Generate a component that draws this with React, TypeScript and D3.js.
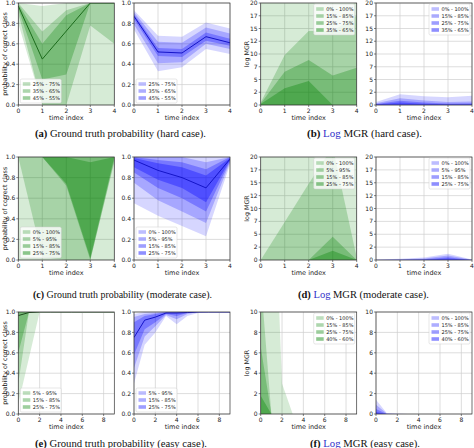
import React from 'react';
import * as d3 from 'd3';

type Band = { label: string; lo: number[]; hi: number[] };

// time axes
const hardT = [0, 1, 2, 3, 4];
const easyT = [0, 1, 2, 3, 4, 5, 6, 7, 8, 9];
const hardXTicks = [0, 1, 2, 3, 4];
const easyXTicks = [0, 2, 4, 6, 8];

// y ticks
const probTicks = [0, 0.2, 0.4, 0.6, 0.8, 1.0];
const mgrTicks20 = [0, 2.5, 5, 7.5, 10, 12.5, 15, 17.5, 20];
const mgrTicks10 = [0, 2, 4, 6, 8, 10];

// (a) ground truth probability, hard case
const hardTruthRefMedian = [0.97, 0.45, 0.725, 1.0, 1.0];
const hardTruthRefBands: Band[] = [
  { label: '25% - 75%', lo: [0.8, 0.0, 0.0, 0.0, 0.0], hi: [1.0, 0.97, 1.0, 1.0, 1.0] },
  { label: '35% - 65%', lo: [0.9, 0.0, 0.0, 0.78, 0.6], hi: [1.0, 0.72, 0.93, 1.0, 1.0] },
  { label: '45% - 55%', lo: [0.94, 0.25, 0.3, 1.0, 1.0], hi: [0.99, 0.6, 0.88, 1.0, 1.0] },
];
const hardTruthOursMedian = [0.87, 0.52, 0.51, 0.67, 0.61];
const hardTruthOursBands: Band[] = [
  { label: '25% - 75%', lo: [0.74, 0.33, 0.37, 0.55, 0.5], hi: [0.93, 0.68, 0.67, 0.81, 0.75] },
  { label: '35% - 65%', lo: [0.79, 0.41, 0.42, 0.6, 0.55], hi: [0.91, 0.62, 0.61, 0.76, 0.7] },
  { label: '45% - 55%', lo: [0.84, 0.48, 0.47, 0.63, 0.58], hi: [0.89, 0.56, 0.55, 0.71, 0.65] },
];

// (b) log MGR, hard case
const hardMgrRefBands: Band[] = [
  { label: '0% - 100%', lo: [0, 0, 0, 0, 0], hi: [20, 20, 20, 20, 20] },
  { label: '15% - 85%', lo: [0, 0, 0, 0, 0], hi: [0.5, 9.8, 14.5, 14.5, 17.5] },
  { label: '25% - 75%', lo: [0, 0, 0, 0, 0], hi: [0.3, 6.5, 8.8, 5.8, 7.3] },
  { label: '35% - 65%', lo: [0, 0, 0, 0, 0], hi: [0.2, 3.3, 4.7, 0.0, 0.0] },
];
const hardMgrOursBands: Band[] = [
  { label: '0% - 100%', lo: [0, 0, 0, 0, 0], hi: [0.6, 2.1, 1.7, 1.5, 1.8] },
  { label: '15% - 85%', lo: [0, 0, 0, 0, 0], hi: [0.35, 1.3, 0.9, 0.6, 0.7] },
  { label: '25% - 75%', lo: [0, 0, 0, 0, 0], hi: [0.2, 0.85, 0.5, 0.3, 0.35] },
  { label: '35% - 65%', lo: [0, 0, 0, 0, 0], hi: [0.1, 0.5, 0.25, 0.15, 0.15] },
];

// (c) ground truth probability, moderate case
const modTruthRefBands: Band[] = [
  { label: '0% - 100%', lo: [0, 0, 0, 0, 0], hi: [1, 1, 1, 1, 1] },
  { label: '5% - 95%', lo: [1.0, 0.03, 0.0, 0.0, 0.95], hi: [1, 1, 1, 1, 1] },
  { label: '15% - 85%', lo: [1.0, 1.0, 0.72, 0.0, 0.97], hi: [1, 1, 1, 1, 1] },
  { label: '25% - 75%', lo: [1.0, 1.0, 0.74, 0.02, 1.0], hi: [1, 1, 1, 0.95, 1] },
];
const modTruthOursMedian = [0.97, 0.87, 0.8, 0.7, 0.98];
const modTruthOursBands: Band[] = [
  { label: '0% - 100%', lo: [0.55, 0.43, 0.33, 0.23, 0.93], hi: [1, 1, 1, 1, 1] },
  { label: '5% - 95%', lo: [0.75, 0.58, 0.47, 0.36, 0.95], hi: [1, 1, 1, 0.95, 1] },
  { label: '15% - 85%', lo: [0.85, 0.7, 0.6, 0.47, 0.96], hi: [1, 0.97, 0.95, 0.88, 1] },
  { label: '25% - 75%', lo: [0.9, 0.78, 0.7, 0.56, 0.97], hi: [0.99, 0.94, 0.9, 0.82, 0.99] },
];

// (d) log MGR, moderate case
const modMgrRefBands: Band[] = [
  { label: '0% - 100%', lo: [0, 0, 0, 0, 0], hi: [20, 20, 20, 20, 20] },
  { label: '5% - 95%', lo: [0, 0, 0, 0, 0], hi: [0, 7.4, 14.8, 22, 0.5] },
  { label: '15% - 85%', lo: [0, 0, 0, 0, 0], hi: [0, 0, 0, 4.5, 0] },
  { label: '25% - 75%', lo: [0, 0, 0, 0, 0], hi: [0, 0, 0, 1.8, 0] },
];
const modMgrOursBands: Band[] = [
  { label: '0% - 100%', lo: [0, 0, 0, 0, 0], hi: [0.1, 0.25, 0.5, 1.2, 0.1] },
  { label: '5% - 95%', lo: [0, 0, 0, 0, 0], hi: [0.05, 0.15, 0.3, 0.85, 0.05] },
  { label: '15% - 85%', lo: [0, 0, 0, 0, 0], hi: [0, 0.05, 0.15, 0.55, 0] },
  { label: '25% - 75%', lo: [0, 0, 0, 0, 0], hi: [0, 0, 0.05, 0.3, 0] },
];

// (e) ground truth probability, easy case
const easyTruthRefMedian = [0.965, 0.995, 1, 1, 1, 1, 1, 1, 1, 1];
const easyTruthRefBands: Band[] = [
  { label: '5% - 95%', lo: [0.1, 0.55, 1, 1, 1, 1, 1, 1, 1, 1], hi: [1, 1, 1, 1, 1, 1, 1, 1, 1, 1] },
  { label: '15% - 85%', lo: [0.3, 1, 1, 1, 1, 1, 1, 1, 1, 1], hi: [1, 1, 1, 1, 1, 1, 1, 1, 1, 1] },
  { label: '25% - 75%', lo: [0.6, 1, 1, 1, 1, 1, 1, 1, 1, 1], hi: [1, 1, 1, 1, 1, 1, 1, 1, 1, 1] },
];
const easyTruthOursMedian = [0.75, 0.92, 0.95, 0.99, 0.99, 0.995, 1, 1, 1, 1];
const easyTruthOursBands: Band[] = [
  { label: '5% - 95%', lo: [0.3, 0.68, 0.8, 0.96, 0.88, 0.96, 0.99, 1, 1, 1], hi: [0.98, 1, 1, 1, 1, 1, 1, 1, 1, 1] },
  { label: '15% - 85%', lo: [0.45, 0.76, 0.86, 0.97, 0.93, 0.98, 1, 1, 1, 1], hi: [0.95, 0.98, 0.99, 1, 1, 1, 1, 1, 1, 1] },
  { label: '25% - 75%', lo: [0.58, 0.83, 0.9, 0.98, 0.96, 0.99, 1, 1, 1, 1], hi: [0.9, 0.96, 0.98, 1, 1, 1, 1, 1, 1, 1] },
];

// (f) log MGR, easy case
const easyMgrRefBands: Band[] = [
  { label: '0% - 100%', lo: [0, 0, 0, 0, 0, 0, 0, 0, 0, 0], hi: [30, 30, 3, 0, 0, 0, 0, 0, 0, 0] },
  { label: '15% - 85%', lo: [0, 0, 0, 0, 0, 0, 0, 0, 0, 0], hi: [13.3, 0, 0, 0, 0, 0, 0, 0, 0, 0] },
  { label: '25% - 75%', lo: [0, 0, 0, 0, 0, 0, 0, 0, 0, 0], hi: [6.6, 0, 0, 0, 0, 0, 0, 0, 0, 0] },
  { label: '40% - 60%', lo: [0, 0, 0, 0, 0, 0, 0, 0, 0, 0], hi: [1.8, 0, 0, 0, 0, 0, 0, 0, 0, 0] },
];
const easyMgrOursBands: Band[] = [
  { label: '0% - 100%', lo: [0, 0, 0, 0, 0, 0, 0, 0, 0, 0], hi: [1.4, 0.1, 0.05, 0, 0, 0, 0, 0, 0, 0] },
  { label: '15% - 85%', lo: [0, 0, 0, 0, 0, 0, 0, 0, 0, 0], hi: [0.9, 0.05, 0, 0, 0, 0, 0, 0, 0, 0] },
  { label: '25% - 75%', lo: [0, 0, 0, 0, 0, 0, 0, 0, 0, 0], hi: [0.5, 0, 0, 0, 0, 0, 0, 0, 0, 0] },
  { label: '40% - 60%', lo: [0, 0, 0, 0, 0, 0, 0, 0, 0, 0], hi: [0.2, 0, 0, 0, 0, 0, 0, 0, 0, 0] },
];

const GREEN = '#008000';
const BLUE = '#0000ff';
const alphas = [0.16, 0.22, 0.28, 0.34];
const SANS = 'DejaVu Sans, sans-serif';
const SERIF = 'Liberation Serif, serif';

const fmtProb = d3.format('.1f');
const fmtInt = (v: number) => String(Math.floor(v));

type PanelProps = {
  id: string;
  left: number;
  top: number;
  h: number;
  t: number[];
  xMax: number;
  xTicks: number[];
  yMax: number;
  yTicks: number[];
  yFmt: (v: number) => string;
  bands: Band[];
  median?: number[];
  color: string;
  lineColor?: string;
  legendAt: 'll' | 'ur';
  ylabel?: string;
};

function Legend({ bands, color, x0, y0 }: { bands: Band[]; color: string; x0: number; y0: number }) {
  const rowH = 7;
  const w = 41;
  const hh = bands.length * rowH + 3;
  return (
    <g>
      <rect x={x0} y={y0} width={w} height={hh} rx={1.5} fill="#fff" fillOpacity={0.8} stroke="#ccc" strokeWidth={0.5} />
      {bands.map((b, i) => {
        const cy = y0 + 1.5 + rowH * i + rowH / 2;
        return (
          <g key={b.label}>
            <rect x={x0 + 2.5} y={cy - 1.8} width={7.5} height={3.6} fill={color} fillOpacity={alphas[i] + 0.1} />
            <text x={x0 + 12.5} y={cy + 1.8} fontSize={5} fontFamily={SANS} fill="#222">
              {b.label}
            </text>
          </g>
        );
      })}
    </g>
  );
}

function Panel(p: PanelProps) {
  const w = 96;
  const x = d3.scaleLinear().domain([0, p.xMax]).range([p.left, p.left + w]);
  const y = d3.scaleLinear().domain([0, p.yMax]).range([p.top + p.h, p.top]);
  const idx = p.t.map((_, i) => i);
  const bottom = p.top + p.h;
  const legendH = p.bands.length * 7 + 3;
  const lx = p.legendAt === 'll' ? p.left + 2 : p.left + w - 43;
  const ly = p.legendAt === 'll' ? bottom - 2 - legendH : p.top + 1;
  const line = d3
    .line<number>()
    .x((i) => x(p.t[i]))
    .y((i) => y(p.median ? p.median[i] : 0));
  return (
    <g>
      <defs>
        <clipPath id={`clip-${p.id}`}>
          <rect x={p.left} y={p.top} width={w} height={p.h} />
        </clipPath>
      </defs>
      {/* grid */}
      {p.xTicks.map((v) => (
        <line key={`gx${v}`} x1={x(v)} x2={x(v)} y1={p.top} y2={bottom} stroke="#cfcfcf" strokeWidth={0.7} />
      ))}
      {p.yTicks.map((v) => (
        <line key={`gy${v}`} x1={p.left} x2={p.left + w} y1={y(v)} y2={y(v)} stroke="#cfcfcf" strokeWidth={0.7} />
      ))}
      {/* percentile bands */}
      <g clipPath={`url(#clip-${p.id})`}>
        {p.bands.map((b, bi) => {
          const area = d3
            .area<number>()
            .x((i) => x(p.t[i]))
            .y0((i) => y(b.lo[i]))
            .y1((i) => y(b.hi[i]));
          return <path key={b.label} d={area(idx) ?? ''} fill={p.color} fillOpacity={alphas[bi]} />;
        })}
        {p.median && (
          <path d={line(idx) ?? ''} fill="none" stroke={p.lineColor} strokeWidth={1} />
        )}
      </g>
      <rect x={p.left} y={p.top} width={w} height={p.h} fill="none" stroke="#333" strokeWidth={0.7} />
      {/* ticks */}
      {p.xTicks.map((v) => (
        <g key={`tx${v}`}>
          <line x1={x(v)} x2={x(v)} y1={bottom} y2={bottom + 2} stroke="#333" strokeWidth={0.6} />
          <text x={x(v)} y={bottom + 8} fontSize={6} fontFamily={SANS} textAnchor="middle" fill="#222">
            {v}
          </text>
        </g>
      ))}
      {p.yTicks.map((v) => (
        <g key={`ty${v}`}>
          <line x1={p.left - 2} x2={p.left} y1={y(v)} y2={y(v)} stroke="#333" strokeWidth={0.6} />
          <text x={p.left - 3} y={y(v) + 2.1} fontSize={6} fontFamily={SANS} textAnchor="end" fill="#222">
            {p.yFmt(v)}
          </text>
        </g>
      ))}
      <text x={p.left + w / 2} y={bottom + 14.5} fontSize={6.5} fontFamily={SANS} textAnchor="middle" fill="#222">
        time index
      </text>
      {p.ylabel && (
        <text
          transform={`translate(${p.left - 11.5},${p.top + p.h / 2}) rotate(-90)`}
          fontSize={6.3}
          fontFamily={SANS}
          textAnchor="middle"
          fill="#222"
        >
          {p.ylabel}
        </text>
      )}
      <Legend bands={p.bands} color={p.color} x0={lx} y0={ly} />
    </g>
  );
}

function Caption({ x, y, tag, pre, link, post, len }: { x: number; y: number; tag: string; pre: string; link?: string; post: string; len: number }) {
  return (
    <text x={x} y={y} fontSize={9.5} fontFamily={SERIF} fill="#111" textLength={len} lengthAdjust="spacingAndGlyphs">
      <tspan fontWeight="bold">{tag}</tspan>
      <tspan>{pre}</tspan>
      {link && <tspan fill="#3030c8">{link}</tspan>}
      <tspan>{post}</tspan>
    </text>
  );
}

const colA = 18.3;
const colB = 134;
const colC = 260.7;
const colD = 376;
const rowTops = [3, 157, 312];
const rowH = [102, 103, 102];

export default function App() {
  return (
    <div style={{ position: 'absolute', left: 0, top: 0 }}>
      <svg width={474} height={448} viewBox="0 0 474 448" style={{ display: 'block', background: '#fff' }}>
        {/* row 1: hard case */}
        <Panel id="a1" left={colA} top={rowTops[0]} h={rowH[0]} t={hardT} xMax={4} xTicks={hardXTicks} yMax={1} yTicks={probTicks} yFmt={fmtProb}
          bands={hardTruthRefBands} median={hardTruthRefMedian} color={GREEN} lineColor="#1c6b1c" legendAt="ll" ylabel="probability of correct class" />
        <Panel id="a2" left={colB} top={rowTops[0]} h={rowH[0]} t={hardT} xMax={4} xTicks={hardXTicks} yMax={1} yTicks={probTicks} yFmt={fmtProb}
          bands={hardTruthOursBands} median={hardTruthOursMedian} color={BLUE} lineColor="#1414c8" legendAt="ll" />
        <Panel id="b1" left={colC} top={rowTops[0]} h={rowH[0]} t={hardT} xMax={4} xTicks={hardXTicks} yMax={20} yTicks={mgrTicks20} yFmt={fmtInt}
          bands={hardMgrRefBands} color={GREEN} legendAt="ur" ylabel="log MGR" />
        <Panel id="b2" left={colD} top={rowTops[0]} h={rowH[0]} t={hardT} xMax={4} xTicks={hardXTicks} yMax={20} yTicks={mgrTicks20} yFmt={fmtInt}
          bands={hardMgrOursBands} color={BLUE} legendAt="ur" />

        {/* row 2: moderate case */}
        <Panel id="c1" left={colA} top={rowTops[1]} h={rowH[1]} t={hardT} xMax={4} xTicks={hardXTicks} yMax={1} yTicks={probTicks} yFmt={fmtProb}
          bands={modTruthRefBands} color={GREEN} legendAt="ll" ylabel="probability of correct class" />
        <Panel id="c2" left={colB} top={rowTops[1]} h={rowH[1]} t={hardT} xMax={4} xTicks={hardXTicks} yMax={1} yTicks={probTicks} yFmt={fmtProb}
          bands={modTruthOursBands} median={modTruthOursMedian} color={BLUE} lineColor="#1414c8" legendAt="ll" />
        <Panel id="d1" left={colC} top={rowTops[1]} h={rowH[1]} t={hardT} xMax={4} xTicks={hardXTicks} yMax={20} yTicks={mgrTicks20} yFmt={fmtInt}
          bands={modMgrRefBands} color={GREEN} legendAt="ur" ylabel="log MGR" />
        <Panel id="d2" left={colD} top={rowTops[1]} h={rowH[1]} t={hardT} xMax={4} xTicks={hardXTicks} yMax={20} yTicks={mgrTicks20} yFmt={fmtInt}
          bands={modMgrOursBands} color={BLUE} legendAt="ur" />

        {/* row 3: easy case */}
        <Panel id="e1" left={colA} top={rowTops[2]} h={rowH[2]} t={easyT} xMax={9} xTicks={easyXTicks} yMax={1} yTicks={probTicks} yFmt={fmtProb}
          bands={easyTruthRefBands} median={easyTruthRefMedian} color={GREEN} lineColor="#1c4a1c" legendAt="ll" ylabel="probability of correct class" />
        <Panel id="e2" left={colB} top={rowTops[2]} h={rowH[2]} t={easyT} xMax={9} xTicks={easyXTicks} yMax={1} yTicks={probTicks} yFmt={fmtProb}
          bands={easyTruthOursBands} median={easyTruthOursMedian} color={BLUE} lineColor="#1414c8" legendAt="ll" />
        <Panel id="f1" left={colC} top={rowTops[2]} h={rowH[2]} t={easyT} xMax={9} xTicks={easyXTicks} yMax={10} yTicks={mgrTicks10} yFmt={fmtInt}
          bands={easyMgrRefBands} color={GREEN} legendAt="ur" ylabel="log MGR" />
        <Panel id="f2" left={colD} top={rowTops[2]} h={rowH[2]} t={easyT} xMax={9} xTicks={easyXTicks} yMax={10} yTicks={mgrTicks10} yFmt={fmtInt}
          bands={easyMgrOursBands} color={BLUE} legendAt="ur" />

        {/* sub-captions */}
        <Caption x={35} y={137} tag="(a)" pre="  Ground truth probability (hard case)." post="" len={171} />
        <Caption x={307} y={137} tag="(b)" pre="  " link="Log" post=" MGR (hard case)." len={115} />
        <Caption x={33} y={298} tag="(c)" pre="  Ground truth probability (moderate case)." post="" len={179} />
        <Caption x={298} y={298} tag="(d)" pre="  " link="Log" post=" MGR (moderate case)." len={131} />
        <Caption x={35} y={447} tag="(e)" pre="  Ground truth probability (easy case)." post="" len={172} />
        <Caption x={310} y={447} tag="(f)" pre="  " link="Log" post=" MGR (easy case)." len={110} />
      </svg>
    </div>
  );
}
